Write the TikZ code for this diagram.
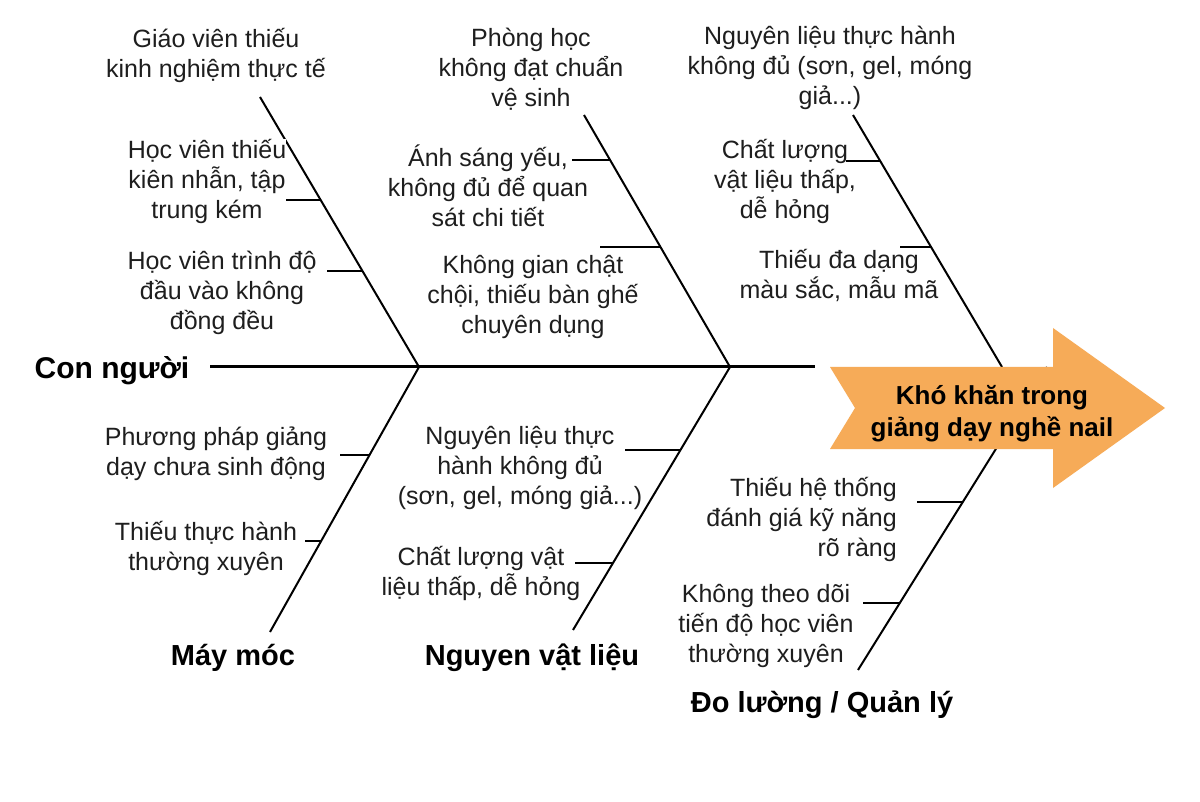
\documentclass[tikz,border=0pt]{standalone}
\usepackage{fontspec}
\setmainfont{Liberation Sans}
\usetikzlibrary{calc}
\definecolor{arroworange}{RGB}{246,171,88}
\definecolor{inkgray}{RGB}{30,30,30}
\begin{document}
\begin{tikzpicture}[x=1pt,y=-1pt,
  cause/.style={font=\fontsize{25}{30}\selectfont, align=center, inner sep=0pt, text=inkgray},
  cat/.style={font=\fontsize{29}{34}\selectfont\bfseries, inner sep=0pt, text=black},
  goal/.style={font=\fontsize{26}{32}\selectfont\bfseries, align=center, inner sep=0pt, text=black},
  spine/.style={line width=3pt, black},
  rib/.style={line width=2pt, black},
  sub/.style={line width=1.8pt, black},
  arrowbody/.style={fill=arroworange, draw=none},
]
\useasboundingbox (0,0) rectangle (1200,802);
\fill[white] (0,0) rectangle (1200,802);

% spine and junctions
\coordinate (s0) at (210,367);
\coordinate (s1) at (815,367);
\coordinate (j1) at (419,367);
\coordinate (j2) at (730,367);
\coordinate (j3) at (1002,367);
\coordinate (j3b) at (1047,367);
% rib ends
\coordinate (u1) at (260,97);
\coordinate (u2) at (584,115);
\coordinate (u3) at (853,115);
\coordinate (l1) at (270,632);
\coordinate (l2) at (573,630);
\coordinate (l3) at (858,670);
% sub-branch points
\coordinate (a1) at (320,200);  \coordinate (a1e) at (283,200);
\coordinate (a2) at (362,271);  \coordinate (a2e) at (327,271);
\coordinate (b1) at (610,160);  \coordinate (b1e) at (572,160);
\coordinate (b2) at (660,247);  \coordinate (b2e) at (600,247);
\coordinate (c1) at (880,161);  \coordinate (c1e) at (846,161);
\coordinate (c2) at (931,247);  \coordinate (c2e) at (900,247);
\coordinate (d1) at (369,455);  \coordinate (d1e) at (340,455);
\coordinate (d2) at (321,541);  \coordinate (d2e) at (305,541);
\coordinate (e1) at (680,450);  \coordinate (e1e) at (625,450);
\coordinate (e2) at (613,563);  \coordinate (e2e) at (575,563);
\coordinate (f1) at (962,502);  \coordinate (f1e) at (917,502);
\coordinate (f2) at (900,603);  \coordinate (f2e) at (863,603);

\draw[spine] (s0) -- (s1);
\draw[rib] (u1) -- (j1);
\draw[rib] (u2) -- (j2);
\draw[rib] (u3) -- (j3);
\draw[rib] (j1) -- (l1);
\draw[rib] (j2) -- (l2);
\draw[rib] (j3b) -- (l3);
\foreach \p in {a1,a2,b1,b2,c1,c2,d1,d2,e1,e2,f1,f2}{
  \draw[sub] (\p) -- (\p e);
}

% head arrow
\fill[arrowbody] (830,367) -- (1053,367) -- (1053,328) -- (1165,408)
  -- (1053,488) -- (1053,449) -- (830,449) -- (855,408) -- cycle;
\node[goal] (goaltext) at (992,414) {Khó khăn trong\\giảng dạy nghề nail};

% category labels
\node[cat, font=\fontsize{30}{34}\selectfont\bfseries] (cnguoi) at (112,371) {Con người};
\node[cat] (maymoc) at (233,658) {Máy móc};
\node[cat] (nvl) at (532,658) {Nguyen vật liệu};
\node[cat] (dolq) at (822,705) {Đo lường / Quản lý};

% causes
\node[cause] (t1) at (216,55) {Giáo viên thiếu\\kinh nghiệm thực tế};
\node[cause, fill=white] (t2) at (207,181) {Học viên thiếu\\kiên nhẫn, tập\\trung kém};
\node[cause] (t3) at (222,293) {Học viên trình độ\\đầu vào không\\đồng đều};
\node[cause] (t4) at (531,69) {Phòng học\\không đạt chuẩn\\vệ sinh};
\node[cause] (t5) at (488,186) {Ánh sáng yếu,\\không đủ để quan\\sát chi tiết};
\node[cause] (t6) at (533,297) {Không gian chật\\chội, thiếu bàn ghế\\chuyên dụng};
\node[cause] (t7) at (830,68) {Nguyên liệu thực hành\\không đủ (sơn, gel, móng\\giả...)};
\node[cause] (t8) at (785,181) {Chất lượng\\vật liệu thấp,\\dễ hỏng};
\node[cause] (t9) at (839,275) {Thiếu đa dạng\\màu sắc, mẫu mã};
\node[cause] (t10) at (216,454) {Phương pháp giảng\\dạy chưa sinh động};
\node[cause] (t11) at (206,548) {Thiếu thực hành\\thường xuyên};
\node[cause] (t12) at (520,468) {Nguyên liệu thực\\hành không đủ\\(sơn, gel, móng giả...)};
\node[cause] (t13) at (481,573) {Chất lượng vật\\liệu thấp, dễ hỏng};
\node[cause, align=right, anchor=east] (t14) at (897,519) {Thiếu hệ thống\\đánh giá kỹ năng\\rõ ràng};
\node[cause] (t15) at (766,626) {Không theo dõi\\tiến độ học viên\\thường xuyên};
\end{tikzpicture}
\end{document}
